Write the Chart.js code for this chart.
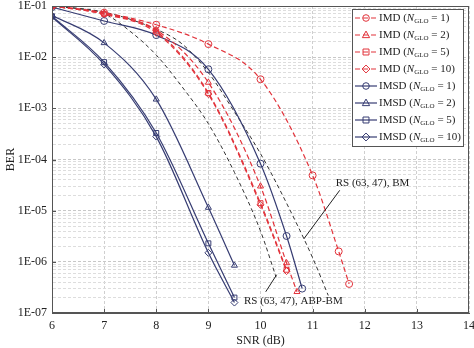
<!DOCTYPE html>
<html lang="en">
<head>
<meta charset="UTF-8">
<title>BER vs SNR</title>
<script src="https://cdn.jsdelivr.net/npm/chart.js"></script>
<style>
  html, body { margin: 0; padding: 0; background: #fff; }
</style>
</head>
<body>
<canvas id="berChart" width="474" height="348"></canvas>
<script>
    // IMD curves (red, dashed)
    const imdSnr1 = [6, 7, 8, 9, 10, 11, 11.5, 11.7];
    const imdBer1 = [1.0e-1, 7.4e-2, 4.3e-2, 1.8e-2, 3.7e-3, 4.9e-5, 1.6e-6, 3.7e-7];
    const imdSnr2 = [6, 7, 8, 9, 10, 10.5, 10.7];
    const imdBer2 = [1.0e-1, 7.2e-2, 3.4e-2, 3.2e-3, 3.0e-5, 9.5e-7, 2.6e-7];
    const imdSnr5 = [6, 7, 8, 9, 10, 10.5];
    const imdBer5 = [1.0e-1, 7.0e-2, 3.2e-2, 2.0e-3, 1.4e-5, 7.0e-7];
    const imdSnr10 = [6, 7, 8, 9, 10, 10.5];
    const imdBer10 = [1.0e-1, 6.9e-2, 3.0e-2, 1.9e-3, 1.3e-5, 6.6e-7];

    // IMSD curves (navy, solid)
    const imsdSnr1 = [6, 7, 8, 9, 10, 10.5, 10.8];
    const imsdBer1 = [9.5e-2, 5.1e-2, 2.7e-2, 5.8e-3, 8.3e-5, 3.2e-6, 3.0e-7];
    const imsdSnr2 = [6, 7, 8, 9, 9.5];
    const imsdBer2 = [6.6e-2, 1.9e-2, 1.5e-3, 1.15e-5, 8.5e-7];
    const imsdSnr5 = [6, 7, 8, 9, 9.5];
    const imsdBer5 = [6.3e-2, 8.0e-3, 3.3e-4, 2.3e-6, 2.0e-7];
    const imsdSnr10 = [6, 7, 8, 9, 9.5];
    const imsdBer10 = [6.1e-2, 7.2e-3, 2.8e-4, 1.5e-6, 1.6e-7];

    // RS (63, 47) reference curves (black, dashed)
    const rsBmSnr = [6, 7, 8, 8.5, 9, 9.5, 10, 10.5, 11, 11.3];
    const rsBmBer = [1.0e-1, 7.6e-2, 3.5e-2, 1.8e-2, 5.0e-3, 8.5e-4, 1.3e-4, 1.4e-5, 1.2e-6, 2.2e-7];
    const rsAbpSnr = [6, 6.5, 7, 7.5, 8, 8.5, 9, 9.5, 10, 10.3];
    const rsAbpBer = [1.0e-1, 8.9e-2, 7.1e-2, 3.2e-2, 1.1e-2, 2.6e-3, 5.0e-4, 5.6e-5, 4.0e-6, 5.0e-7];

    const snrMin = 6, snrMax = 14;
    const berMinExp = -7, berMaxExp = -1;

    const RED = '#e2333b';
    const NAVY = '#363c72';
    const DARK = '#333333';
    const FONT = '"Liberation Serif", "Times New Roman", serif';

    function toPoints(snr, ber) {
        return snr.map((s, i) => ({ x: s, y: ber[i] }));
    }

    function series(prefix, n, snr, ber, color, dash, style) {
        return {
            label: prefix + ' (N_GLO = ' + n + ')',
            legendPrefix: prefix,
            nGlo: n,
            data: toPoints(snr, ber),
            borderColor: color,
            borderWidth: 1.2,
            borderDash: dash,
            pointStyle: style,
            pointRadius: 3.5,
            pointBorderColor: color,
            pointBackgroundColor: 'rgba(0,0,0,0)',
            pointBorderWidth: 1,
            cubicInterpolationMode: 'monotone',
            fill: false
        };
    }

    function reference(label, snr, ber) {
        return {
            label: label,
            data: toPoints(snr, ber),
            borderColor: DARK,
            borderWidth: 1,
            borderDash: [4, 3],
            pointRadius: 0,
            cubicInterpolationMode: 'monotone',
            fill: false
        };
    }

    const datasets = [
        series('IMD', 1, imdSnr1, imdBer1, RED, [5, 3], 'circle'),
        series('IMD', 2, imdSnr2, imdBer2, RED, [5, 3], 'triangle'),
        series('IMD', 5, imdSnr5, imdBer5, RED, [5, 3], 'rect'),
        series('IMD', 10, imdSnr10, imdBer10, RED, [5, 3], 'rectRot'),
        series('IMSD', 1, imsdSnr1, imsdBer1, NAVY, [], 'circle'),
        series('IMSD', 2, imsdSnr2, imsdBer2, NAVY, [], 'triangle'),
        series('IMSD', 5, imsdSnr5, imsdBer5, NAVY, [], 'rect'),
        series('IMSD', 10, imsdSnr10, imsdBer10, NAVY, [], 'rectRot'),
        reference('RS (63, 47), BM', rsBmSnr, rsBmBer),
        reference('RS (63, 47), ABP-BM', rsAbpSnr, rsAbpBer)
    ];

    // text notes with leader lines, in data coordinates
    const notes = [
        { text: 'RS (63, 47), BM', at: [12.15, 3.4e-5], from: [10.83, 2.8e-6], to: [11.52, 2.5e-5] },
        { text: 'RS (63, 47), ABP-BM', at: [10.63, 1.7e-7], from: [10.1, 2.6e-7], to: [10.31, 5.6e-7] }
    ];

    function isDecade(v) {
        const l = Math.log10(v);
        return Math.abs(l - Math.round(l)) < 1e-6;
    }

    function drawMarker(ctx, style, x, y, r) {
        ctx.beginPath();
        if (style === 'circle') {
            ctx.arc(x, y, r, 0, Math.PI * 2);
        } else if (style === 'triangle') {
            ctx.moveTo(x, y - r * 1.2);
            ctx.lineTo(x + r * 1.1, y + r * 0.8);
            ctx.lineTo(x - r * 1.1, y + r * 0.8);
            ctx.closePath();
        } else if (style === 'rect') {
            ctx.rect(x - r * 0.9, y - r * 0.9, r * 1.8, r * 1.8);
        } else {
            ctx.moveTo(x, y - r * 1.2);
            ctx.lineTo(x + r * 1.2, y);
            ctx.lineTo(x, y + r * 1.2);
            ctx.lineTo(x - r * 1.2, y);
            ctx.closePath();
        }
        ctx.stroke();
    }

    const framePlugin = {
        id: 'framePlugin',
        afterDraw(chart) {
            const { ctx, chartArea: a, scales } = chart;
            const xs = scales.x, ys = scales.y;
            ctx.save();

            // box round the plot and small inner ticks
            ctx.strokeStyle = '#555';
            ctx.lineWidth = 1;
            ctx.setLineDash([]);
            ctx.strokeRect(a.left + 0.5, a.top + 0.5, a.right - a.left - 1, a.bottom - a.top - 1);
            ctx.beginPath();
            for (let s = snrMin + 1; s < snrMax; s++) {
                const px = Math.round(xs.getPixelForValue(s)) + 0.5;
                ctx.moveTo(px, a.bottom);
                ctx.lineTo(px, a.bottom - 4);
            }
            for (let e = berMinExp + 1; e < berMaxExp; e++) {
                const py = Math.round(ys.getPixelForValue(Math.pow(10, e))) + 0.5;
                ctx.moveTo(a.left, py);
                ctx.lineTo(a.left + 4, py);
            }
            ctx.stroke();

            // notes
            ctx.fillStyle = '#222';
            ctx.strokeStyle = '#222';
            ctx.font = '11px ' + FONT;
            ctx.textAlign = 'center';
            ctx.textBaseline = 'middle';
            notes.forEach(n => {
                ctx.beginPath();
                ctx.moveTo(xs.getPixelForValue(n.from[0]), ys.getPixelForValue(n.from[1]));
                ctx.lineTo(xs.getPixelForValue(n.to[0]), ys.getPixelForValue(n.to[1]));
                ctx.stroke();
                ctx.fillText(n.text, xs.getPixelForValue(n.at[0]), ys.getPixelForValue(n.at[1]));
            });

            // legend
            const items = chart.data.datasets.filter(d => d.legendPrefix);
            const rowH = 17;
            const boxW = 111, boxH = items.length * rowH + 1;
            const bx = a.right - boxW - 6, by = a.top + 3;
            ctx.fillStyle = '#fff';
            ctx.fillRect(bx, by, boxW, boxH);
            ctx.strokeStyle = '#555';
            ctx.strokeRect(bx + 0.5, by + 0.5, boxW, boxH);
            ctx.textAlign = 'left';
            items.forEach((d, i) => {
                const cy = by + 9 + i * rowH;
                const sx = bx + 3;
                ctx.strokeStyle = d.borderColor;
                ctx.lineWidth = 1.2;
                ctx.setLineDash(d.borderDash);
                ctx.beginPath();
                ctx.moveTo(sx, cy);
                ctx.lineTo(sx + 22, cy);
                ctx.stroke();
                ctx.setLineDash([]);
                ctx.lineWidth = 1;
                drawMarker(ctx, d.pointStyle, sx + 11, cy, 3.3);

                let tx = sx + 24;
                ctx.fillStyle = '#222';
                ctx.font = '11px ' + FONT;
                const head = d.legendPrefix + ' (';
                ctx.fillText(head, tx, cy);
                tx += ctx.measureText(head).width;
                ctx.font = 'italic 11px ' + FONT;
                ctx.fillText('N', tx, cy);
                tx += ctx.measureText('N').width;
                ctx.font = '7px ' + FONT;
                ctx.fillText('GLO', tx, cy + 3);
                tx += ctx.measureText('GLO').width;
                ctx.font = '11px ' + FONT;
                ctx.fillText(' = ' + d.nGlo + ')', tx, cy);
            });
            ctx.restore();
        }
    };

    new Chart(document.getElementById('berChart'), {
        type: 'line',
        data: { datasets: datasets },
        options: {
            responsive: false,
            animation: false,
            layout: { padding: { top: 6, right: 5, left: 0, bottom: 0 } },
            plugins: {
                legend: { display: false },
                tooltip: { enabled: false }
            },
            scales: {
                x: {
                    type: 'linear',
                    min: snrMin,
                    max: snrMax,
                    ticks: {
                        stepSize: 1,
                        color: '#222',
                        padding: 6,
                        font: { family: FONT, size: 12 }
                    },
                    grid: { color: '#cfcfcf', drawTicks: false },
                    border: { color: '#555', dash: [3, 2] },
                    title: {
                        display: true,
                        text: 'SNR (dB)',
                        color: '#222',
                        padding: { top: 2, bottom: 0 },
                        font: { family: FONT, size: 12 }
                    },
                    afterFit(scale) {
                        scale.height = 35;
                        scale.paddingLeft = 0;
                        scale.paddingRight = 0;
                    }
                },
                y: {
                    type: 'logarithmic',
                    min: Math.pow(10, berMinExp),
                    max: Math.pow(10, berMaxExp),
                    afterBuildTicks(scale) {
                        const ticks = [];
                        for (let e = berMinExp; e <= berMaxExp; e++) {
                            for (let m = 1; m <= 9; m++) {
                                if (e === berMaxExp && m > 1) break;
                                ticks.push({ value: m * Math.pow(10, e) });
                            }
                        }
                        scale.ticks = ticks;
                    },
                    ticks: {
                        autoSkip: false,
                        color: '#222',
                        padding: 5,
                        font: { family: FONT, size: 12 },
                        callback(value) {
                            if (!isDecade(value)) return '';
                            const e = Math.round(Math.log10(value));
                            return '1E-0' + (-e);
                        }
                    },
                    grid: {
                        drawTicks: false,
                        color: c => (c.tick && isDecade(c.tick.value)) ? '#c8c8c8' : '#dddddd'
                    },
                    border: { color: '#555', dash: [3, 2] },
                    title: {
                        display: true,
                        text: 'BER',
                        color: '#222',
                        padding: { top: 4, bottom: 0 },
                        font: { family: FONT, size: 12 }
                    },
                    afterFit(scale) {
                        scale.width = 52;
                        scale.paddingTop = 0;
                        scale.paddingBottom = 0;
                    }
                }
            }
        },
        plugins: [framePlugin]
    });
</script>
</body>
</html>
